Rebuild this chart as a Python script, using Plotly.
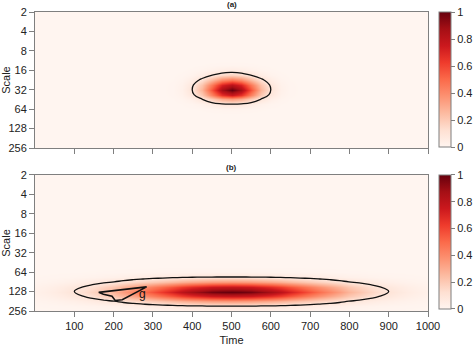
import numpy as np
import plotly.graph_objects as go

# Time axis samples (0..1000, step 25) and scale samples in log2 units (2..256)
times = list(range(0, 1001, 25))
log2_scales = [1 + 0.25 * i for i in range(29)]

# Panel (a): normalized power profile along time and along scale
power_time_a = [0] * 13 + [0.001, 0.006, 0.027, 0.10, 0.27, 0.56, 0.87, 1.0,
                           0.87, 0.56, 0.27, 0.10, 0.027, 0.006, 0.001] + [0] * 13
power_scale_a = [0] * 10 + [0.001, 0.008, 0.044, 0.17, 0.46, 0.82, 1.0,
                            0.76, 0.34, 0.088, 0.013, 0.001] + [0] * 7

# Panel (b): long packet at scale 128
power_time_b = [0.027, 0.038, 0.054, 0.074, 0.10, 0.13, 0.17, 0.22, 0.27, 0.34,
                0.41, 0.48, 0.56, 0.64, 0.72, 0.80, 0.87, 0.92, 0.97, 0.99,
                1.0,
                0.99, 0.97, 0.92, 0.87, 0.80, 0.72, 0.64, 0.56, 0.48, 0.41,
                0.34, 0.27, 0.22, 0.17, 0.13, 0.10, 0.074, 0.054, 0.038, 0.027]
power_scale_b = [0] * 19 + [0.002, 0.017, 0.10, 0.36, 0.78, 1.0, 0.78, 0.36, 0.10, 0.017]

# Significance level for the outer contour
contour_level = 0.1

# Small inner contour in panel (b)
inner_time = [162, 217, 268, 284, 222, 204, 196, 174, 162]
inner_log2 = [7.04, 6.93, 6.82, 6.76, 7.42, 7.46, 7.24, 7.14, 7.04]

scale_ticks = [1, 2, 3, 4, 5, 6, 7, 8]
scale_labels = ["2", "4", "8", "16", "32", "64", "128", "256"]
time_ticks = [100, 200, 300, 400, 500, 600, 700, 800, 900, 1000]
cbar_ticks = [0, 0.2, 0.4, 0.6, 0.8, 1]
cbar_labels = ["0", "0.2", "0.4", "0.6", "0.8", "1"]

reds = [[0.0, "#fff5f0"], [0.125, "#fee0d2"], [0.25, "#fcbba1"], [0.375, "#fc9272"],
        [0.5, "#fb6a4a"], [0.625, "#ef3b2c"], [0.75, "#cb181d"], [0.875, "#a50f15"],
        [1.0, "#67000d"]]

z_a = np.outer(power_scale_a, power_time_a)
z_b = np.outer(power_scale_b, power_time_b)

FONT = "Liberation Sans, Arial, sans-serif"
AX = "#7f7f7f"

fig = go.Figure()


def colorbar(top, length):
    return dict(x=1.028, xanchor="left", y=top, yanchor="top", len=length,
                lenmode="fraction", thickness=12, xpad=0, ypad=0,
                outlinewidth=1, outlinecolor=AX,
                tickvals=cbar_ticks, ticktext=cbar_labels, ticks="outside",
                ticklen=4, tickcolor=AX, tickfont=dict(size=11, color="#222", family=FONT))


for z, xa, ya, top, length in [(z_a, "x", "y", 1.0, 0.452), (z_b, "x2", "y2", 0.455, 0.448)]:
    fig.add_trace(go.Heatmap(x=times, y=log2_scales, z=z, zmin=0, zmax=1,
                             colorscale=reds, zsmooth="best", xaxis=xa, yaxis=ya,
                             colorbar=colorbar(top, length), hoverinfo="skip"))
    fig.add_trace(go.Contour(x=times, y=log2_scales, z=z, xaxis=xa, yaxis=ya,
                             contours=dict(start=contour_level, end=contour_level, size=1,
                                           coloring="none"),
                             line=dict(color="#111", width=1.3, smoothing=1.3),
                             showscale=False, hoverinfo="skip"))

fig.add_trace(go.Scatter(x=inner_time, y=inner_log2, mode="lines", xaxis="x2", yaxis="y2",
                         line=dict(color="#111", width=1.6), showlegend=False,
                         hoverinfo="skip"))

xcommon = dict(range=[0, 1000], tickvals=time_ticks, ticks="outside", ticklen=5,
               tickcolor=AX, showline=True, linecolor=AX, linewidth=1, mirror=True,
               showgrid=False, zeroline=False, automargin=False,
               tickfont=dict(size=11, color="#222", family=FONT))
ycommon = dict(range=[8, 1], tickvals=scale_ticks, ticktext=scale_labels,
               ticks="outside", ticklen=5, tickcolor=AX, showline=True, linecolor=AX,
               linewidth=1, mirror=True, showgrid=False, zeroline=False, automargin=False,
               tickfont=dict(size=11, color="#222", family=FONT),
               title=dict(text="Scale", font=dict(size=11, color="#222", family=FONT),
                          standoff=4))

fig.update_layout(
    width=474, height=346,
    margin=dict(l=35, r=46, t=12, b=35, autoexpand=False),
    paper_bgcolor="white", plot_bgcolor="white",
    showlegend=False,
    xaxis=dict(**xcommon, anchor="y", showticklabels=False),
    yaxis=dict(**ycommon, domain=[0.545, 1.0], anchor="x"),
    xaxis2=dict(**xcommon, anchor="y2",
                title=dict(text="Time", font=dict(size=11, color="#222", family=FONT),
                           standoff=6)),
    yaxis2=dict(**ycommon, domain=[0.0, 0.455], anchor="x2"),
    annotations=[
        dict(text="<b>(a)</b>", x=500, y=1.0, xref="x", yref="paper", yanchor="bottom",
             yshift=1, showarrow=False, font=dict(size=8, color="#222", family=FONT)),
        dict(text="<b>(b)</b>", x=500, y=0.455, xref="x2", yref="paper", yanchor="bottom",
             yshift=1, showarrow=False, font=dict(size=8, color="#222", family=FONT)),
        dict(text="g", x=274, y=7.12, xref="x2", yref="y2", showarrow=False,
             font=dict(size=12, color="#111", family=FONT)),
    ],
)

fig.write_html("out.html")
